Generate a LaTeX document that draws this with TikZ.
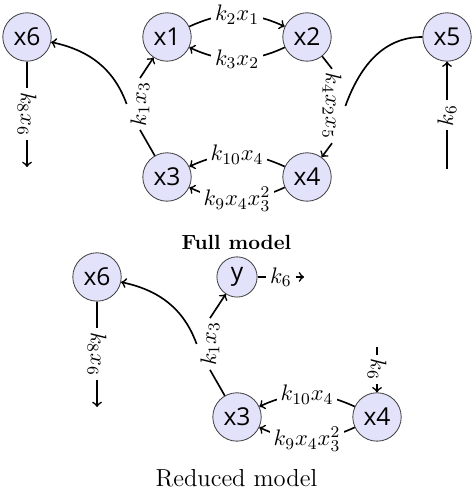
\documentclass[tikz,border=0pt]{standalone}
\usepackage{fontspec}
\newfontfamily\nodefont{Open Sans}
\usetikzlibrary{arrows, calc}
\definecolor{nodefill}{RGB}{226,226,250}

\begin{document}
\begin{tikzpicture}[thick,
            species/.style={circle, draw=black!75, thin, fill=nodefill, minimum size=0.83cm, inner sep=0pt, font=\nodefont\large},
            ratelab/.style={inner sep=1.5pt, font=\fontsize{11}{13}\selectfont},
            ratefill/.style={fill=white, inner sep=2pt, font=\fontsize{11}{13}\selectfont}]
        \useasboundingbox (-0.463,0.634) rectangle (7.663,-7.766);
        % full model
        \node[species] (x6) at (0,0) {x6};
        \node[species] (x1) at (2.4,0) {x1};
        \node[species] (x2) at (4.8,0) {x2};
        \node[species] (x5) at (7.2,0) {x5};
        \node[species] (x3) at (2.4,-2.4) {x3};
        \node[species] (x4) at (4.8,-2.4) {x4};
        \coordinate (out6) at (0,-2.229);
        \coordinate (in5) at (7.2,-2.263);
        \node[ratelab, rotate=90] (r1) at (1.937,-1.149) {$k_1x_3$};
        \node[ratelab, rotate=-90] (r2) at (5.229,-1.183) {$k_4x_2x_5$};
        \draw[->] (x1) to[bend left=25] node[ratefill] {$k_2x_1$} (x2);
        \draw[->] (x2) to[bend left=25] node[ratefill] {$k_3x_2$} (x1);
        \draw[->] (x4) to[bend right=25] node[ratefill] {$k_{10}x_4$} (x3);
        \draw[->] (x4) to[bend left=25] node[ratefill] {$k_9x_4x_3^2$} (x3);
        \draw (x3) -- (r1.west);
        \draw[->] (r1.east) -- (x1);
        \draw[->] (r1.north) to[out=110, in=-12] (x6);
        \draw (x2) -- (r2.west);
        \draw (x5) to[out=180, in=70] (r2.north);
        \draw[->] (r2.east) -- (x4);
        \draw[->] (x6) -- node[ratefill, sloped] {$k_8x_6$} (out6);
        \draw[->] (in5) -- node[ratefill, sloped] {$k_6$} (x5);
        \node[font=\bfseries] (full) at (3.59,-3.514) {Full model};
        % reduced model
        \node[species] (x6r) at (1.2,-4.114) {x6};
        \node[species, minimum size=0.69cm] (y) at (3.6,-4.114) {y};
        \node[species] (x3r) at (3.6,-6.514) {x3};
        \node[species] (x4r) at (6.0,-6.514) {x4};
        \coordinate (out6r) at (1.2,-6.343);
        \coordinate (outy) at (4.749,-4.114);
        \coordinate (in4r) at (6.0,-5.314);
        \node[ratelab, rotate=90] (r1r) at (3.137,-5.263) {$k_1x_3$};
        \draw[->] (x4r) to[bend right=25] node[ratefill] {$k_{10}x_4$} (x3r);
        \draw[->] (x4r) to[bend left=25] node[ratefill] {$k_9x_4x_3^2$} (x3r);
        \draw (x3r) -- (r1r.west);
        \draw[->] (r1r.east) -- (y);
        \draw[->] (r1r.north) to[out=110, in=-12] (x6r);
        \draw[->] (x6r) -- node[ratefill, sloped] {$k_8x_6$} (out6r);
        \draw[->] (y) -- node[ratefill] {$k_6$} (outy);
        \draw[->] (in4r) -- node[ratefill, sloped] {$k_6$} (x4r);
        \node[font=\large] (reduced) at (3.59,-7.56) {Reduced model};
\end{tikzpicture}
\end{document}
